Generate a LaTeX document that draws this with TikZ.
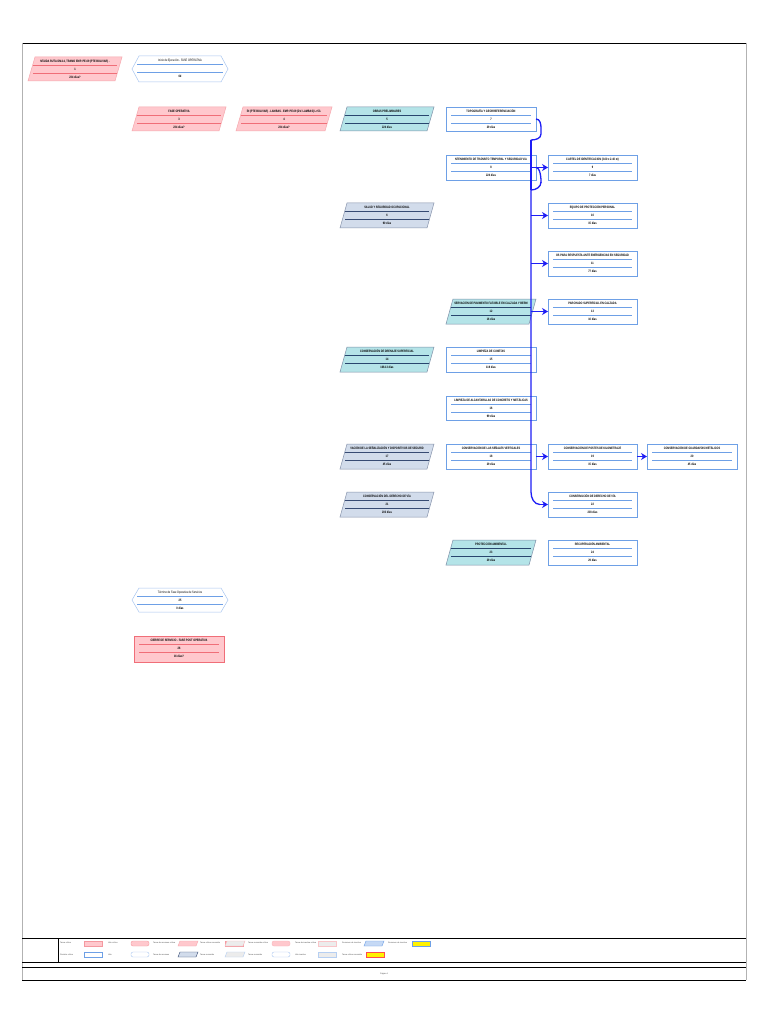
\documentclass[tikz,border=0pt]{standalone}
\usepackage{fontspec}
\usetikzlibrary{arrows.meta}
\setmainfont{Liberation Sans}
\definecolor{pkf}{RGB}{255,200,205}\definecolor{pkd}{RGB}{240,110,120}
\definecolor{cyf}{RGB}{180,228,232}\definecolor{cyd}{RGB}{40,70,110}
\definecolor{gyf}{RGB}{210,220,235}\definecolor{gyd}{RGB}{55,75,115}
\definecolor{blf}{RGB}{255,255,255}\definecolor{bld}{RGB}{110,160,230}
\definecolor{arr}{RGB}{30,30,245}
\tikzset{conn/.style={arr,line width=1.3pt,-{Stealth[length=6pt,width=7pt]}},
trunk/.style={arr,line width=1.3pt},
txt/.style={font=\fontsize{3.3}{3.8}\selectfont\bfseries,inner sep=0pt,text=black}}
% \tk{name}{x1}{y1}{x2}{y2}{fill}{draw}{kind}{title}{num}{dur}
\newcommand{\tk}[9]{%
 \pgfmathsetmacro{\ya}{#3+8.5}\pgfmathsetmacro{\yb}{#3+16.5}%
 \pgfmathsetmacro{\ta}{#3+4.3}\pgfmathsetmacro{\tb}{#3+12.5}\pgfmathsetmacro{\tc}{#3+20.7}%
 \pgfmathsetmacro{\xm}{(#2+#4)/2}%
 \ifx#8p\filldraw[fill=#6,draw=#7!60,line width=0.5pt] (#2+7,#3)--(#4,#3)--(#4-7,#5)--(#2,#5)--cycle;
 \else\ifx#8h\filldraw[fill=#6,draw=#7!60,line width=0.5pt] (#2+7,#3)--(#4-7,#3)--(#4,{(#3+#5)/2})--(#4-7,#5)--(#2+7,#5)--(#2,{(#3+#5)/2})--cycle;
 \else\filldraw[fill=#6,draw=#7,line width=0.7pt] (#2,#3) rectangle (#4,#5);\fi\fi
 \draw[#7,line width=0.8pt] (#2+5,\ya)--(#4-5,\ya) (#2+5,\yb)--(#4-5,\yb);
 \node[coordinate] (#1) at (\xm,{(#3+#5)/2}) {};
 \node[coordinate] (#1w) at (#2,{(#3+#5)/2}) {};
 \node[coordinate] (#1e) at (#4,{(#3+#5)/2}) {};
 \node[txt] (#1t) at (\xm,\ta) {\scalebox{0.75}[1]{#9}};\tkrest{#1}}
\newcommand{\tkrest}[3]{\node[txt] (#1n) at (\xm,\tb) {\scalebox{0.75}[1]{#2}};\node[txt] (#1d) at (\xm,\tc) {\scalebox{0.75}[1]{#3}};}
\begin{document}
\begin{tikzpicture}[x=1pt,y=-1pt]
\useasboundingbox (0,0) rectangle (768,1024);
\fill[white] (0,0) rectangle (768,1024);
% frame
\draw[black,line width=0.8pt] (22,43)--(746,43);
\draw[gray!60,line width=0.6pt] (22,43)--(22,980) (746,43)--(746,980);
\draw[black,line width=0.8pt] (22,938)--(746,938) (22,962)--(746,962) (22,967)--(746,967) (22,980)--(746,980);
\draw[black,line width=0.6pt] (58,938)--(58,962);
% tasks
\tk{t1}{28}{57}{122}{81}{pkf}{pkd}{p}{NTAIDA RUTA DM-14, TRAMO EMP. PE-09 (PTE BOLIVAR) -}{1}{234 días?}
\tk{t2}{132}{56}{228}{82}{blf}{bld}{h}{\mdseries Inicio de Ejecución - FASE OPERATIVA}{}{0d}
\tk{t3}{132}{107}{226}{131}{pkf}{pkd}{p}{FASE OPERATIVA}{3}{234 días?}
\tk{t4}{236}{107}{332}{131}{pkf}{pkd}{p}{ÍN (PTE BOLIVAR) - LAMBAS - EMP. PE-09 (DV. LAMBAS) L=53.}{4}{234 días?}
\tk{t5}{340}{107}{434}{131}{cyf}{cyd}{p}{OBRAS PRELIMINARES}{5}{224 días}
\tk{t7}{446}{107}{536}{131}{blf}{bld}{r}{TOPOGRAFÍA Y GEORREFERENCIACIÓN}{7}{29 días}
\tk{t8}{446}{155}{536}{180}{blf}{bld}{r}{NTENIMIENTO DE TRÁNSITO TEMPORAL Y SEGURIDAD VIA}{8}{224 días}
\tk{t9}{548}{155}{637}{180}{blf}{bld}{r}{CARTEL DE IDENTIFICACION (3.60 x 2.40 m)}{9}{7 días}
\tk{t6}{340}{203}{434}{228}{gyf}{gyd}{p}{SALUD Y SEGURIDAD OCUPACIONAL}{6}{90 días}
\tk{t10}{548}{203}{637}{228}{blf}{bld}{r}{EQUIPO DE PROTECCIÓN PERSONAL}{10}{15 días}
\tk{t11}{548}{251}{637}{276}{blf}{bld}{r}{OS PARA RESPUESTA ANTE EMERGENCIAS EN SEGURIDAD}{11}{77 días}
\tk{t12}{446}{299}{536}{324}{cyf}{cyd}{p}{SERVACIÓN DE PAVIMENTO FLEXIBLE EN CALZADA Y BERM}{12}{16 días}
\tk{t13}{548}{299}{637}{324}{blf}{bld}{r}{PARCHADO SUPERFICIAL EN CALZADA}{13}{16 días}
\tk{t14}{340}{347}{434}{372}{cyf}{cyd}{p}{CONSERVACIÓN DE DRENAJE SUPERFICIAL}{14}{108.13 días}
\tk{t15}{446}{347}{536}{372}{blf}{bld}{r}{LIMPIEZA DE CUNETAS}{15}{119 días}
\tk{t16}{446}{396}{536}{420}{blf}{bld}{r}{LIMPIEZA DE ALCANTARILLAS DE CONCRETO Y METÁLICAS}{16}{99 días}
\tk{t17}{340}{444}{434}{469}{gyf}{gyd}{p}{VACIÓN DE LA SEÑALIZACIÓN Y DISPOSITIVOS DE SEGURID}{17}{45 días}
\tk{t18}{446}{444}{536}{469}{blf}{bld}{r}{CONSERVACIÓN DE LAS SEÑALES VERTICALES}{18}{29 días}
\tk{t19}{548}{444}{637}{469}{blf}{bld}{r}{CONSERVACIÓN DE POSTES DE KILOMETRAJE}{19}{15 días}
\tk{t20}{647}{444}{737}{469}{blf}{bld}{r}{CONSERVACIÓN DE GUARDAVÍAS METÁLICOS}{20}{45 días}
\tk{t21}{340}{492}{434}{517}{gyf}{gyd}{p}{CONSERVACIÓN DEL DERECHO DE VÍA}{21}{203 días}
\tk{t22}{548}{492}{637}{517}{blf}{bld}{r}{CONSERVACIÓN DE DERECHO DE VÍA}{22}{203 días}
\tk{t23}{446}{540}{536}{565}{cyf}{cyd}{p}{PROTECCIÓN AMBIENTAL}{23}{29 días}
\tk{t24}{548}{540}{637}{565}{blf}{bld}{r}{RECUPERACIÓN AMBIENTAL}{24}{29 días}
\tk{t25}{132}{588}{228}{612}{blf}{bld}{h}{\mdseries Término de Fase Operativa de Servicios}{25}{0 días}
\tk{t26}{134}{636}{224}{662}{pkf}{pkd}{r}{CIERRE DE SERVICIO - FASE POST OPERATIVA}{26}{16 días?}
% connectors
\coordinate (j1) at (531,140);
\draw[trunk] (t7e) to[out=0,in=90] (541,128) -- (541,134) to[out=-90,in=0] (j1);
\draw[trunk] (t8e) to[out=0,in=-90] (541,182) ;
\draw[trunk] (j1) -- (531,190);
\draw[trunk] (531,190) to[out=0,in=-90] (541,182);
\draw[trunk] (j1) -- (531,492) to[out=-90,in=180] (540,504.5);
\draw[conn] (540,504.5) -- (t22w);
\draw[conn] (531,167.5) -- (t9w);
\draw[conn] (531,215.5) -- (t10w);
\draw[conn] (531,263.5) -- (t11w);
\draw[conn] (531,311.5) -- (t13w);
\draw[conn] (t18e) -- (t19w);
\draw[conn] (t19e) -- (t20w);
% legend
\tikzset{lg/.style={font=\fontsize{2}{2.5}\selectfont,inner sep=0pt,anchor=west,text=black!70}}
\foreach \x/\a/\b in {60/Tarea crítica/División crítica,108/Hito crítico/Hito,153/Tarea de resumen crítica/Tarea de resumen,200/Tarea crítica resumida/Tarea resumida,248/Tarea resumida crítica/Tarea resumida,295/Tarea de inactiva crítica/Hito inactivo,342/Resumen de inactiva/Tarea crítica resumida,388/Resumen de inactiva/}
 {\node[lg] at (\x,943) {\a};\node[lg] at (\x,955) {\b};}
\foreach \x in {84,225}
 {\filldraw[fill=pkf,draw=pkd!70,line width=0.4pt] (\x,941) rectangle ++(18,5);}
\filldraw[fill=pkf,draw=pkd!70,rounded corners=2pt,line width=0.4pt] (131,941) rectangle ++(18,5);
\filldraw[fill=pkf,draw=pkd!60,line width=0.4pt] (180,941)--(198,941)--(196,946)--(178,946)--cycle;
\filldraw[fill=gray!15,draw=pkd!50,line width=0.4pt] (227,941)--(245,941)--(243,946)--(225,946)--cycle;
\filldraw[fill=pkf,draw=pkd!50,rounded corners=2pt,line width=0.4pt] (272,941) rectangle ++(18,5);
\filldraw[fill=gray!15,draw=pkd!40,line width=0.4pt] (318,941) rectangle ++(18,5);
\filldraw[fill=bld!40,draw=bld,line width=0.4pt] (366,941)--(384,941)--(382,946)--(364,946)--cycle;
\filldraw[fill=yellow,draw=bld,line width=0.4pt] (412,941) rectangle ++(18,5);
\draw[bld,line width=0.5pt] (84,952) rectangle ++(18,5);
\draw[bld!60,rounded corners=2pt,line width=0.4pt] (131,952) rectangle ++(18,5);
\filldraw[fill=gyf,draw=gyd,line width=0.4pt] (180,952)--(198,952)--(196,957)--(178,957)--cycle;
\filldraw[fill=gray!15,draw=bld!50,line width=0.4pt] (227,952)--(245,952)--(243,957)--(225,957)--cycle;
\draw[bld!60,rounded corners=2pt,line width=0.4pt] (272,952) rectangle ++(18,5);
\filldraw[fill=gray!15,draw=bld!50,line width=0.4pt] (318,952) rectangle ++(18,5);
\filldraw[fill=yellow,draw=red!70,line width=0.5pt] (366,952) rectangle ++(18,5);
\node[lg] at (380,974) {Página 1};
\end{tikzpicture}
\end{document}
